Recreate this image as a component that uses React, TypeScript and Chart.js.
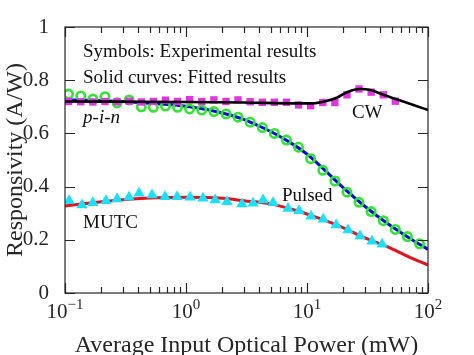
import { useEffect, useRef } from "react";
import { Chart, registerables } from "chart.js";

Chart.register(...registerables);

const FONT = "'Liberation Serif', 'Times New Roman', serif";

// p-i-n measured (green circles), CW
const pinPower = [0.107, 0.135, 0.17, 0.214, 0.269, 0.339, 0.427, 0.537, 0.676, 0.851, 1.07, 1.35, 1.7, 2.14, 2.69, 3.39, 4.27, 5.37, 6.76, 8.51, 10.7, 13.5, 17.0, 21.4, 26.9, 33.9, 42.7, 53.7, 67.6, 85.1];
const pinMeasured = [0.748, 0.741, 0.729, 0.738, 0.715, 0.726, 0.7, 0.698, 0.703, 0.698, 0.692, 0.688, 0.682, 0.673, 0.661, 0.642, 0.622, 0.6, 0.575, 0.548, 0.505, 0.461, 0.421, 0.379, 0.341, 0.306, 0.272, 0.239, 0.212, 0.185];

// CW measured (magenta squares)
const cwPower = [0.107, 0.135, 0.17, 0.214, 0.269, 0.339, 0.427, 0.537, 0.676, 0.851, 1.07, 1.35, 1.7, 2.14, 2.69, 3.39, 4.27, 5.37, 6.76, 8.51, 10.7, 13.5, 17.0, 21.4, 26.9, 33.9, 42.7, 53.7];
const cwMeasured = [0.72, 0.719, 0.718, 0.72, 0.719, 0.721, 0.718, 0.72, 0.725, 0.72, 0.727, 0.72, 0.726, 0.72, 0.726, 0.719, 0.717, 0.717, 0.717, 0.707, 0.704, 0.716, 0.716, 0.745, 0.767, 0.755, 0.745, 0.721];

// MUTC pulsed measured (cyan triangles)
const mutcPower = [0.108, 0.138, 0.17, 0.218, 0.269, 0.338, 0.409, 0.524, 0.67, 0.843, 1.08, 1.38, 1.74, 2.18, 2.9, 3.58, 4.33, 5.24, 6.97, 8.59, 10.8, 13.6, 17.4, 21.8, 27.4, 34.4, 41.7];
const mutcMeasured = [0.347, 0.331, 0.339, 0.347, 0.353, 0.36, 0.375, 0.368, 0.362, 0.362, 0.36, 0.356, 0.35, 0.343, 0.335, 0.337, 0.35, 0.339, 0.318, 0.309, 0.289, 0.277, 0.256, 0.237, 0.214, 0.195, 0.183];

// Fitted curves
const cwFitPower = [0.1, 1, 3, 8, 11, 14, 17.8, 21.4, 27.5, 34, 42.7, 55, 80, 100];
const cwFit = [0.72, 0.718, 0.716, 0.713, 0.713, 0.72, 0.735, 0.755, 0.767, 0.762, 0.745, 0.728, 0.703, 0.688];

const pinFitPower = [0.1, 0.2, 0.3, 0.5, 1, 2, 3, 4, 5, 7, 10, 14, 20, 30, 45, 70, 100];
const pinFit = [0.726, 0.724, 0.72, 0.713, 0.702, 0.677, 0.653, 0.628, 0.607, 0.57, 0.522, 0.462, 0.395, 0.326, 0.265, 0.207, 0.164];

const mutcFitPower = [0.1, 0.2, 0.3, 0.5, 1, 2, 3, 5, 8, 12, 20, 30, 45, 70, 100];
const mutcFit = [0.327, 0.343, 0.351, 0.357, 0.36, 0.356, 0.347, 0.335, 0.311, 0.284, 0.245, 0.207, 0.176, 0.135, 0.105];

const xMajorTicks = [0.1, 1, 10, 100];
const xTickExponents = ["\u22121", "0", "1", "2"];
const yTicks = [0, 0.2, 0.4, 0.6, 0.8, 1];

const annotations = [
  { text: "Symbols: Experimental results", x: 0.141, y: 0.906, italic: false },
  { text: "Solid curves: Fitted results", x: 0.141, y: 0.808, italic: false },
  { text: "p-i-n", x: 0.141, y: 0.658, italic: true },
  { text: "CW", x: 23.5, y: 0.677, italic: false },
  { text: "Pulsed", x: 6.2, y: 0.365, italic: false },
  { text: "MUTC", x: 0.141, y: 0.263, italic: false },
];

const zip = (xs: number[], ys: number[]) => xs.map((x, i) => ({ x, y: ys[i] }));

const framePlugin = {
  id: "frameTicks",
  afterDraw(chart: any) {
    const { ctx, chartArea: a, scales } = chart;
    const xs = scales.x;
    const ys = scales.y;
    ctx.save();
    ctx.strokeStyle = "#262626";
    ctx.lineWidth = 1.2;
    ctx.strokeRect(a.left, a.top, a.right - a.left, a.bottom - a.top);
    ctx.beginPath();
    const major = 10;
    const minor = 6;
    for (let d = 0.1; d < 100; d *= 10) {
      for (let m = 1; m <= 10; m++) {
        const v = d * m;
        const px = Math.round(xs.getPixelForValue(v)) + 0.5;
        const len = m === 1 || m === 10 ? major : minor;
        ctx.moveTo(px, a.bottom);
        ctx.lineTo(px, a.bottom - len);
        ctx.moveTo(px, a.top);
        ctx.lineTo(px, a.top + len);
      }
    }
    for (const v of yTicks) {
      const py = Math.round(ys.getPixelForValue(v)) + 0.5;
      ctx.moveTo(a.left, py);
      ctx.lineTo(a.left + major, py);
      ctx.moveTo(a.right, py);
      ctx.lineTo(a.right - major, py);
    }
    ctx.stroke();

    // x tick labels: 10^n
    ctx.fillStyle = "#262626";
    ctx.textBaseline = "alphabetic";
    ctx.textAlign = "left";
    const baseFont = `21px ${FONT}`;
    const expFont = `15px ${FONT}`;
    xMajorTicks.forEach((v, i) => {
      const px = xs.getPixelForValue(v);
      ctx.font = baseFont;
      const wb = ctx.measureText("10").width;
      ctx.font = expFont;
      const we = ctx.measureText(xTickExponents[i]).width;
      const start = px - (wb + we) / 2;
      ctx.font = baseFont;
      ctx.fillText("10", start, a.bottom + 25);
      ctx.font = expFont;
      ctx.fillText(xTickExponents[i], start + wb, a.bottom + 16);
    });

    // annotations
    ctx.fillStyle = "#111";
    ctx.textBaseline = "middle";
    for (const an of annotations) {
      ctx.font = `${an.italic ? "italic " : ""}19px ${FONT}`;
      ctx.fillText(an.text, xs.getPixelForValue(an.x), ys.getPixelForValue(an.y));
    }
    ctx.restore();
  },
};

export default function App() {
  const ref = useRef<HTMLCanvasElement | null>(null);
  useEffect(() => {
    if (!ref.current) return;
    const chart = new Chart(ref.current, {
      type: "scatter",
      data: {
        datasets: [
          {
            label: "CW fit",
            data: zip(cwFitPower, cwFit),
            showLine: true,
            borderColor: "#000000",
            borderWidth: 2.6,
            pointRadius: 0,
            cubicInterpolationMode: "monotone",
            order: 0,
          },
          {
            label: "CW measured",
            data: zip(cwPower, cwMeasured),
            pointStyle: "rect",
            pointRadius: 5.2,
            backgroundColor: "#e632e6",
            borderColor: "#e632e6",
            borderWidth: 0,
            order: 1,
          },
          {
            label: "MUTC measured",
            data: zip(mutcPower, mutcMeasured),
            pointStyle: "triangle",
            pointRadius: 6.5,
            backgroundColor: "#12e4ff",
            borderColor: "#12e4ff",
            borderWidth: 0,
            order: 2,
          },
          {
            label: "MUTC fit",
            data: zip(mutcFitPower, mutcFit),
            showLine: true,
            borderColor: "#e8101a",
            borderWidth: 3,
            pointRadius: 0,
            cubicInterpolationMode: "monotone",
            order: 3,
          },
          {
            label: "p-i-n measured",
            data: zip(pinPower, pinMeasured),
            pointStyle: "circle",
            pointRadius: 4.2,
            backgroundColor: "rgba(0,0,0,0)",
            borderColor: "#2ee62e",
            borderWidth: 2.6,
            order: 4,
          },
          {
            label: "p-i-n fit",
            data: zip(pinFitPower, pinFit),
            showLine: true,
            borderColor: "#0a0ae0",
            borderWidth: 3,
            pointRadius: 0,
            cubicInterpolationMode: "monotone",
            order: 5,
          },
        ],
      },
      options: {
        animation: false,
        responsive: false,
        maintainAspectRatio: false,
        layout: { padding: { left: 0, top: 27, right: 46, bottom: 0 } },
        plugins: { legend: { display: false }, tooltip: { enabled: false } },
        scales: {
          x: {
            type: "logarithmic",
            min: 0.1,
            max: 100,
            grid: { display: false },
            border: { display: false },
            ticks: { display: false },
            afterFit: (s: any) => {
              s.height = 62;
            },
            title: {
              display: true,
              text: "Average Input Optical Power (mW)",
              color: "#262626",
              font: { family: FONT, size: 24, lineHeight: 0.8 },
              padding: { top: 0, bottom: 0 },
            },
          },
          y: {
            type: "linear",
            min: 0,
            max: 1,
            grid: { display: false },
            border: { display: false },
            ticks: {
              stepSize: 0.2,
              padding: 8,
              color: "#262626",
              font: { family: FONT, size: 21 },
              callback: (v: any) => String(Math.round(Number(v) * 10) / 10),
            },
            afterFit: (s: any) => {
              s.width = 65;
            },
            title: {
              display: true,
              text: "Responsivity (A/W)",
              color: "#262626",
              font: { family: FONT, size: 24, lineHeight: 1.2 },
              padding: { top: 1, bottom: 0 },
            },
          },
        },
      },
      plugins: [framePlugin],
    } as any);
    return () => chart.destroy();
  }, []);
  return (
    <div style={{ position: "absolute", left: 0, top: 0, width: 474, height: 355, background: "#fff" }}>
      <canvas ref={ref} width={474} height={355} style={{ display: "block" }} />
    </div>
  );
}
